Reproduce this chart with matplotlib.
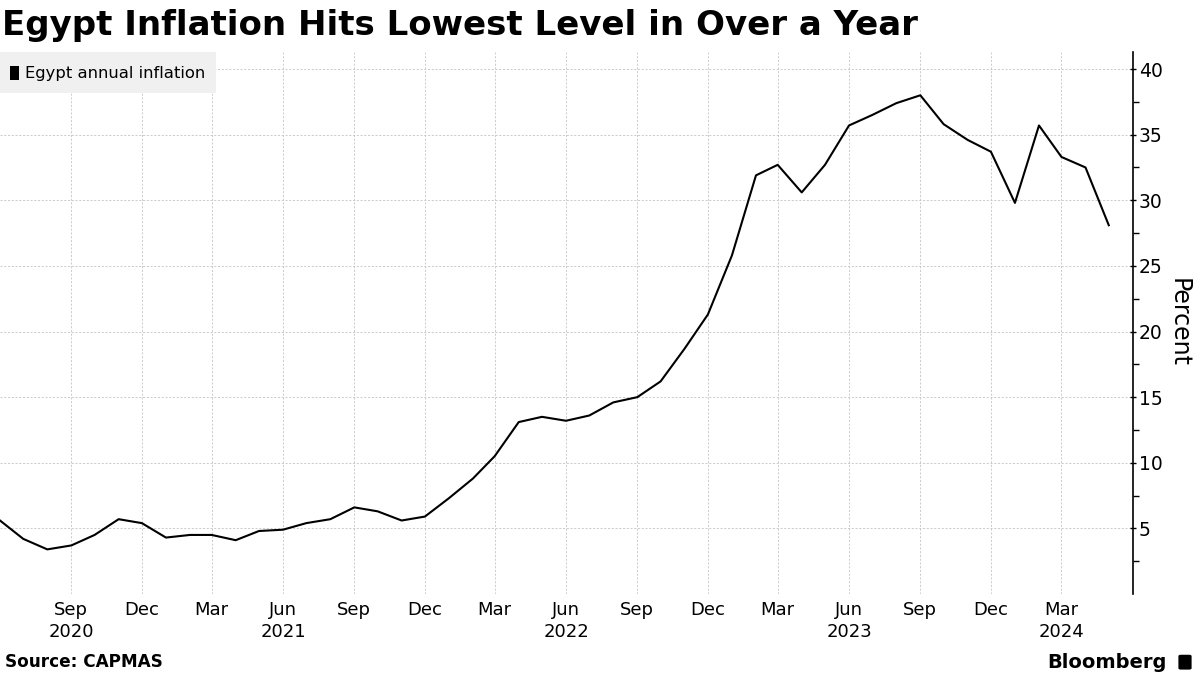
#!/usr/bin/env python3

# Egypt annual inflation, monthly, Jun 2020 - May 2024 (Bloomberg style)

import matplotlib
matplotlib.use('Agg')
import matplotlib.pyplot as plt
from matplotlib.patches import Rectangle, FancyBboxPatch
import pandas as pd

months = pd.date_range('2020-06-01', '2024-05-01', freq='MS')
inflation = [
    5.6, 4.2, 3.4, 3.7, 4.5, 5.7, 5.4,                               # 2020
    4.3, 4.5, 4.5, 4.1, 4.8, 4.9, 5.4, 5.7, 6.6, 6.3, 5.6, 5.9,      # 2021
    7.3, 8.8, 10.5, 13.1, 13.5, 13.2, 13.6, 14.6, 15.0, 16.2, 18.7, 21.3,  # 2022
    25.8, 31.9, 32.7, 30.6, 32.7, 35.7, 36.5, 37.4, 38.0, 35.8, 34.6, 33.7,  # 2023
    29.8, 35.7, 33.3, 32.5, 28.1,                                    # 2024
]

tick_dates = pd.date_range('2020-09-01', '2024-03-01', freq='3MS')
tick_months = [d.strftime('%b') for d in tick_dates]
year_under = {'2020-09': '2020', '2021-06': '2021', '2022-06': '2022',
              '2023-06': '2023', '2024-03': '2024'}
tick_labels = [m + ('\n' + year_under.get(d.strftime('%Y-%m'), '')) for m, d in zip(tick_months, tick_dates)]
y_ticks = [5, 10, 15, 20, 25, 30, 35, 40]


def main():
    fig = plt.figure(figsize=(12, 6.75), dpi=100)
    ax = fig.add_axes([0.0, 0.12, 0.944, 0.803])

    ax.plot(months, inflation, color='black', linewidth=1.5, zorder=3)

    ax.set_xlim(pd.Timestamp('2020-06-01'), pd.Timestamp('2024-06-01'))
    ax.set_ylim(0, 41.3)

    ax.set_xticks(tick_dates)
    ax.set_xticklabels(tick_labels, fontsize=13, linespacing=1.3)
    ax.tick_params(axis='x', length=0, pad=5)

    ax.yaxis.tick_right()
    ax.yaxis.set_label_position('right')
    ax.set_yticks(y_ticks)
    ax.set_yticklabels([str(v) for v in y_ticks], fontsize=13.5)
    ax.set_yticks([2.5 + 5 * i for i in range(8)], minor=True)
    ax.tick_params(axis='y', which='major', length=5, width=1, direction='inout', pad=2)
    ax.tick_params(axis='y', which='minor', length=4, width=1, direction='out')
    ax.set_ylabel('Percent', fontsize=17, rotation=-90, labelpad=20)

    for side in ['left', 'top', 'bottom']:
        ax.spines[side].set_visible(False)
    ax.spines['right'].set_linewidth(1.2)

    ax.grid(True, which='major', color='#c4c4c4', linestyle=(0, (2.5, 2)), linewidth=0.6)
    ax.set_axisbelow(True)

    # legend box
    ax.add_patch(Rectangle((0, 0.925), 0.191, 0.075, transform=ax.transAxes,
                           facecolor='#f0f0f0', edgecolor='none', zorder=4))
    ax.add_patch(Rectangle((0.009, 0.948), 0.0075, 0.026, transform=ax.transAxes,
                           facecolor='black', edgecolor='none', zorder=5))
    ax.text(0.022, 0.961, 'Egypt annual inflation', transform=ax.transAxes,
            fontsize=11.8, va='center', ha='left', zorder=5)

    fig.text(0.002, 0.962, 'Egypt Inflation Hits Lowest Level in Over a Year',
             fontsize=24.5, fontweight='bold', va='center', ha='left')
    fig.text(0.004, 0.019, 'Source: CAPMAS', fontsize=12.2, fontweight='bold',
             va='center', ha='left')
    fig.text(0.972, 0.019, 'Bloomberg', fontsize=14, fontweight='bold',
             va='center', ha='right')
    fig.patches.append(FancyBboxPatch((0.982, 0.008), 0.011, 0.022,
                                      boxstyle='round,pad=0,rounding_size=0.002',
                                      transform=fig.transFigure, facecolor='black',
                                      edgecolor='none'))

    fig.savefig('out.png', dpi=100)


if __name__ == "__main__":
    main()
